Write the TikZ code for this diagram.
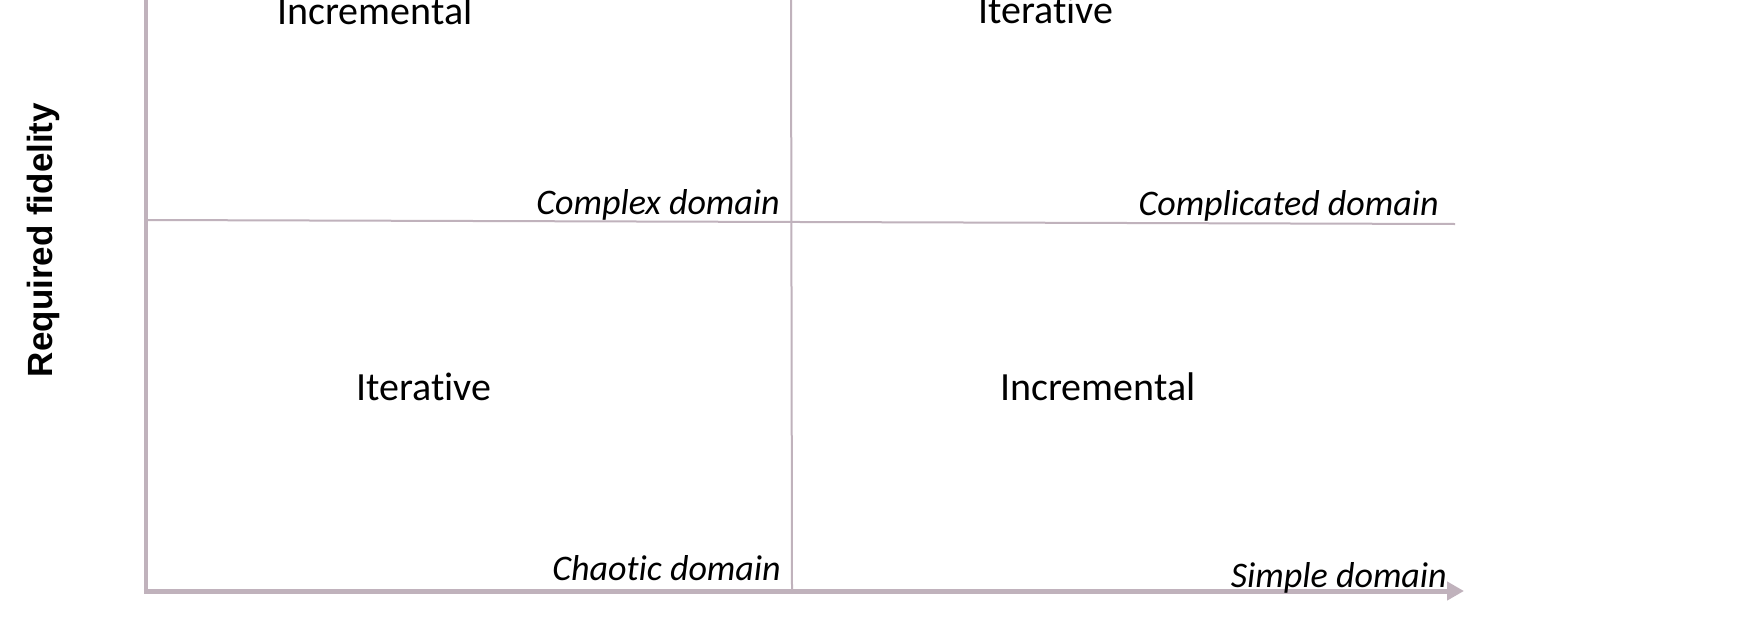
\documentclass[tikz,border=0pt]{standalone}
\usepackage{fontspec}
\setmainfont{Carlito}[Ligatures={NoCommon,NoRare,NoContextual}]
\newfontfamily\axisfont{Liberation Sans}
\usetikzlibrary{arrows.meta}
\definecolor{axiscol}{RGB}{192,178,188}
\tikzset{
  axisline/.style={draw=axiscol, line width=4.5pt},
  gridline/.style={draw=axiscol, line width=2pt},
  quadlabel/.style={inner sep=0pt, font=\fontsize{40}{48}\selectfont},
  domlabel/.style={inner sep=0pt, anchor=base east, font=\fontsize{36}{43}\selectfont\itshape},
  ylabel/.style={inner sep=0pt, rotate=90, font=\axisfont\bfseries\fontsize{35}{42}\selectfont}
}
\begin{document}
\begin{tikzpicture}[x=1pt,y=-1pt]
\useasboundingbox (0,0) rectangle (1759,624);
\clip (0,0) rectangle (1759,624);
\fill[white] (0,0) rectangle (1759,624);
% coordinates
\coordinate (ytop) at (146,-6);
\coordinate (origin) at (146,591);
\coordinate (xend) at (1464,591);
\coordinate (vtop) at (791,-6);
\coordinate (vbot) at (792,590);
\coordinate (hleft) at (147,220);
\coordinate (hright) at (1455,224);
% grid lines
\draw[gridline] (vtop) -- (vbot);
\draw[gridline] (hleft) -- (hright);
% axes
\draw[axisline] (ytop) -- (origin);
\draw[axisline, line width=5pt, -{Triangle[length=17pt,width=18pt]}] ([xshift=-2.25pt]origin) -- (xend);
% quadrant labels
\node[quadlabel, anchor=base] (tl) at (375,24) {Incremental};
\node[quadlabel, anchor=base] (tr) at (1046,23) {Iterative};
\node[quadlabel, anchor=base] (bl) at (424,400) {Iterative};
\node[quadlabel, anchor=base] (br) at (1098,400) {Incremental};
% domain labels
\node[domlabel] (cx) at (780,214) {Complex domain};
\node[domlabel] (cd) at (1439,215) {Complicated domain};
\node[domlabel] (ch) at (781,580) {Chaotic domain};
\node[domlabel] (sd) at (1447,587) {Simple domain};
% y axis label
\node[ylabel] (yl) at (43.5,240) {Required fidelity};
\end{tikzpicture}
\end{document}
